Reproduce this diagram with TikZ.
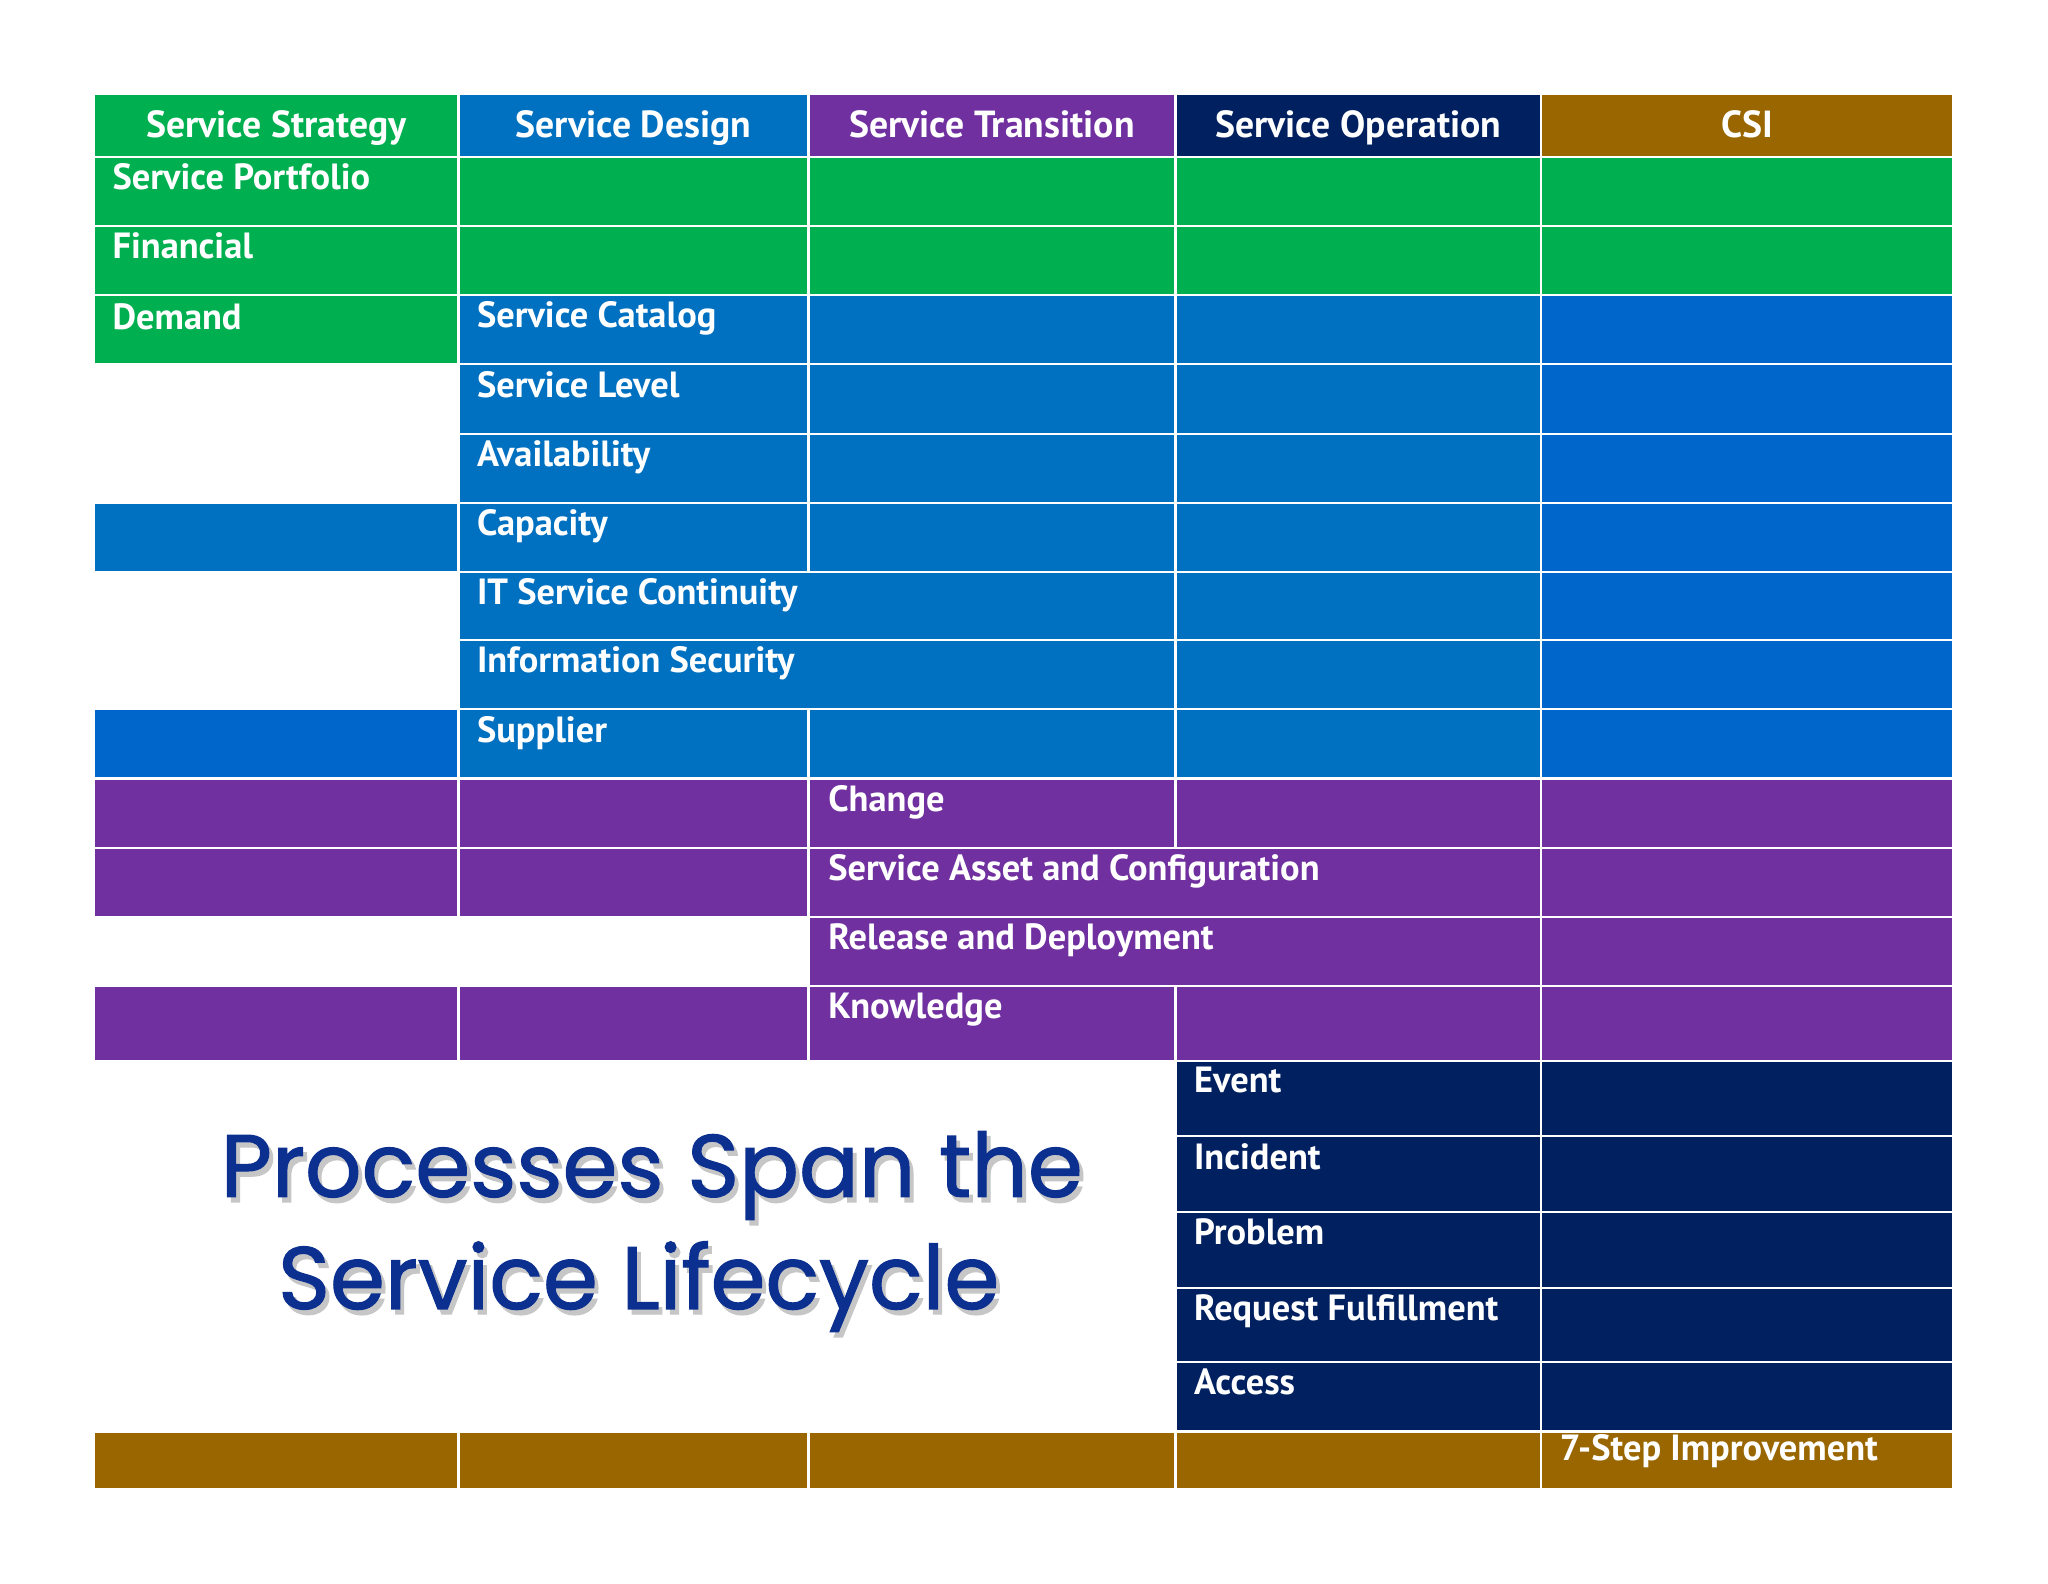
\documentclass[tikz,border=0pt]{standalone}
\usepackage{fontspec}
\setmainfont{PT Sans}
\newfontfamily\titlefont[FakeBold=1.3]{Poppins}
\definecolor{cgreen}{HTML}{00B050}
\definecolor{cblue}{HTML}{0070C0}
\definecolor{cblueb}{HTML}{0066CC}
\definecolor{cpurple}{HTML}{7030A0}
\definecolor{cnavy}{HTML}{002060}
\definecolor{cbrown}{HTML}{996600}
\definecolor{ctitle}{HTML}{0B3090}
\tikzset{cellbox/.style={draw=white,line width=1.6bp},
 celltext/.style={anchor=north west,text=white,font=\bfseries\fontsize{28}{30}\selectfont,inner sep=0pt},
 headtext/.style={anchor=base,text=white,font=\bfseries\fontsize{29}{31}\selectfont,inner sep=0pt},
 titletext/.style={font=\titlefont\fontsize{68}{80}\selectfont,inner sep=0pt}}
\newcommand\cellT[7]{\fill[#5,cellbox] (#1,#2) rectangle (#3,#4); \node[celltext] (#6) at (#1+14,#2+6) {#7};}
\begin{document}
\begin{tikzpicture}[x=1bp,y=-1bp]
\useasboundingbox (0,0) rectangle (1568,1212);
\fill[white] (0,0) rectangle (1568,1212);
% header
\foreach \a/\b/\c/\t [count=\i] in {72/351/cgreen/Service Strategy,351/619/cblue/Service Design,619/900/cpurple/Service Transition,900/1180/cnavy/Service Operation,1180/1495/cbrown/CSI}{
 \fill[\c,cellbox] (\a,72) rectangle (\b,120);
 \node[headtext] (h\i) at ({(\a+\b)/2},105) {\t};}
% rows 1-2 green
\foreach \ya/\yb/\t [count=\r] in {120/173/Service Portfolio,173/226/Financial}{
 \fill[cgreen,cellbox] (72,\ya) rectangle (351,\yb);
 \node[celltext] (g\r) at (86,\ya+5) {\t};
 \foreach \a/\b in {351/619,619/900,900/1180,1180/1495}{\fill[cgreen,cellbox] (\a,\ya) rectangle (\b,\yb);}}
% row 3
\cellT{72}{226}{351}{279}{cgreen}{t3}{Demand}
% blue rows
\foreach \ya/\yb/\t [count=\r] in {226/279/Service Catalog,279/332/Service Level,332/385/Availability,385/438/Capacity,543/596/Supplier}{
 \fill[cblue,cellbox] (351,\ya) rectangle (619,\yb);
 \node[celltext] (b\r) at (365,\ya+5) {\t};
 \fill[cblue,cellbox] (619,\ya) rectangle (900,\yb);
 \fill[cblue,cellbox] (900,\ya) rectangle (1180,\yb);
 \fill[cblueb,cellbox] (1180,\ya) rectangle (1495,\yb);}
\fill[cblue,cellbox] (72,385) rectangle (351,438);
\fill[cblueb,cellbox] (72,543) rectangle (351,596);
\foreach \ya/\yb/\t [count=\r] in {438/490/IT Service Continuity,490/543/Information Security}{
 \fill[cblue,cellbox] (351,\ya) rectangle (900,\yb);
 \node[celltext] (m\r) at (365,\ya+5) {\t};
 \fill[cblue,cellbox] (900,\ya) rectangle (1180,\yb);
 \fill[cblueb,cellbox] (1180,\ya) rectangle (1495,\yb);}
% purple rows
\foreach \ya/\yb/\t [count=\r] in {596/649/Change,755/812/Knowledge}{
 \foreach \a/\b in {72/351,351/619,619/900,900/1180,1180/1495}{\fill[cpurple,cellbox] (\a,\ya) rectangle (\b,\yb);}
 \node[celltext] (p\r) at (634,\ya+5) {\t};}
\foreach \a/\b in {72/351,351/619,619/1180,1180/1495}{\fill[cpurple,cellbox] (\a,649) rectangle (\b,702);}
\node[celltext] (p3) at (634,654) {Service Asset and Configuration};
\foreach \a/\b in {619/1180,1180/1495}{\fill[cpurple,cellbox] (\a,702) rectangle (\b,755);}
\node[celltext] (p4) at (634,707) {Release and Deployment};
% navy rows
\foreach \ya/\yb/\t [count=\r] in {812/870/Event,870/928/Incident,928/986/Problem,986/1043/Request Fulfillment,1043/1096/Access}{
 \fill[cnavy,cellbox] (900,\ya) rectangle (1180,\yb);
 \fill[cnavy,cellbox] (1180,\ya) rectangle (1495,\yb);
 \node[celltext] (n\r) at (914,\ya+5) {\t};}
% brown row
\foreach \a/\b in {72/351,351/619,619/900,900/1180,1180/1495}{\fill[cbrown,cellbox] (\a,1096) rectangle (\b,1140);}
\node[celltext] (c1) at (1194,1098) {7-Step Improvement};
% title (shadow then text)
\node[titletext,text=gray!45] (tas) at (502,904) {Processes Span the};
\node[titletext,text=gray!45] (tbs) at (492,989) {Service Lifecycle};
\node[titletext,text=ctitle] (ta) at (499,900) {Processes Span the};
\node[titletext,text=ctitle] (tb) at (489,985) {Service Lifecycle};
\end{tikzpicture}
\end{document}
